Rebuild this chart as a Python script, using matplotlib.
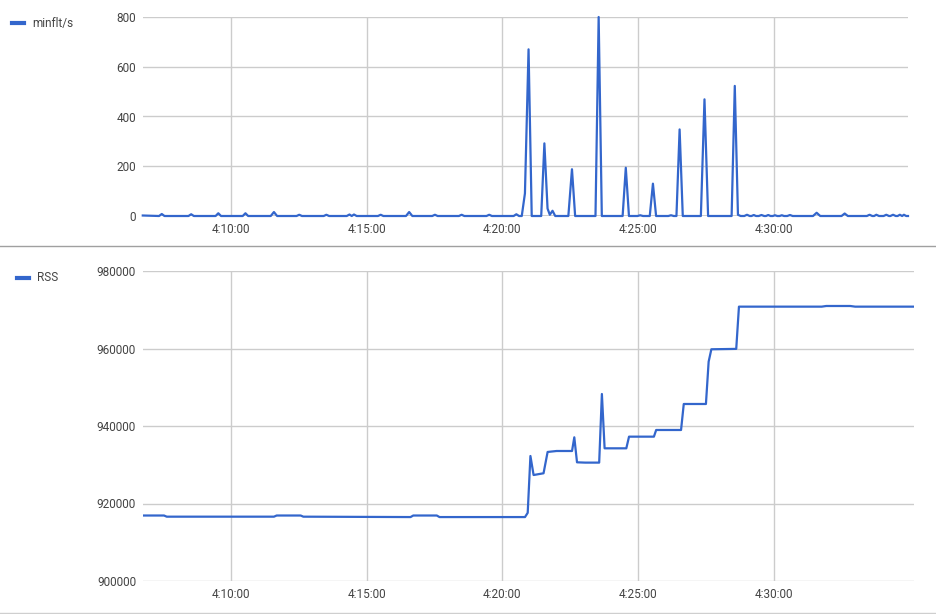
import matplotlib
matplotlib.use("Agg")
import matplotlib.pyplot as plt
from matplotlib.lines import Line2D
from matplotlib.ticker import FuncFormatter, FixedLocator

plt.rcParams['font.family'] = ['Roboto', 'DejaVu Sans']

# ---- data: seconds after 4:00:00 ----
minflt_t = [405, 441, 447, 453, 506, 512, 518, 566, 572, 578, 626, 632, 638,
            688, 695, 702, 745, 751, 757, 805, 811, 817, 856, 862, 867, 872, 878,
            925, 931, 937, 987, 994, 1001, 1045, 1051, 1057, 1104, 1110, 1116,
            1165, 1171, 1177, 1225, 1231, 1237, 1243, 1250, 1258, 1265,
            1286, 1293, 1300, 1305, 1311, 1317, 1346, 1354, 1361,
            1406, 1413, 1420, 1466, 1473, 1480, 1499, 1505, 1511,
            1526, 1533, 1540, 1567, 1573, 1579, 1585, 1592, 1599,
            1639, 1647, 1655, 1707, 1714, 1721, 1727, 1735, 1741, 1747,
            1751, 1756, 1761, 1767, 1773, 1779, 1783, 1788, 1793,
            1798, 1803, 1808, 1813, 1818, 1823, 1830, 1836, 1842,
            1887, 1895, 1903, 1950, 1957, 1964, 2006, 2012, 2018,
            2022, 2027, 2033, 2043, 2049, 2055, 2058, 2064, 2070,
            2074, 2079, 2084, 2088, 2093, 2097]
minflt_v = [2, 0, 8, 0, 0, 7, 0, 0, 11, 0, 0, 11, 0,
            0, 16, 0, 0, 5, 0, 0, 5, 0, 0, 6, 0, 6, 0,
            0, 5, 0, 0, 16, 0, 0, 5, 0, 0, 5, 0,
            0, 5, 0, 0, 7, 0, 0, 91, 670, 0,
            0, 292, 30, 5, 21, 0, 0, 188, 0,
            0, 800, 0, 0, 194, 0, 0, 3, 0,
            0, 130, 0, 0, 3, 0, 0, 348, 0,
            0, 469, 0, 0, 523, 5, 0, 0, 5, 0,
            0, 4, 0, 0, 4, 0, 0, 4, 0,
            0, 3, 0, 0, 3, 0, 0, 4, 0,
            0, 13, 0, 0, 10, 0, 0, 5, 0,
            0, 5, 0, 0, 5, 0, 0, 5, 0,
            0, 5, 0, 5, 0, 0]

rss_t = [406, 452, 458, 695, 701, 754, 760, 997, 1003, 1055, 1061, 1250,
         1256, 1262, 1269, 1291, 1300, 1320, 1354, 1359, 1365, 1383, 1414,
         1420, 1426, 1474, 1480, 1535, 1540, 1595, 1601, 1650, 1656, 1662,
         1717, 1723, 1906, 1916, 1969, 1980, 2108]
rss_v = [916900, 916900, 916600, 916600, 916900, 916900, 916600, 916500, 916900,
         916900, 916500, 916500,
         917600, 932260, 927350, 927800, 933300, 933550, 933550, 937080, 930630,
         930550, 930550, 948260, 934240, 934240, 937250, 937250, 938970, 938970,
         945680, 945680, 956600, 959800, 959900, 970800, 970800, 970970, 970970,
         970800, 970800]

x_ticks = [600, 900, 1200, 1500, 1800]
top_yticks = [0, 200, 400, 600, 800]
bot_yticks = [900000, 920000, 940000, 960000, 980000]

BLUE = '#3366cc'
GRID = '#cccccc'
TXT = '#444444'

W, H = 937, 614
fig = plt.figure(figsize=(W / 100, H / 100), dpi=100)


def fmt_time(t, pos=None):
    m = int(round(t)) // 60
    s = int(round(t)) % 60
    return f"4:{m:02d}:{s:02d}"


def style(ax, yticks, ylim, xlim):
    ax.set_xlim(*xlim)
    ax.set_ylim(*ylim)
    for sp in ax.spines.values():
        sp.set_visible(False)
    ax.xaxis.set_major_locator(FixedLocator(x_ticks))
    ax.xaxis.set_major_formatter(FuncFormatter(fmt_time))
    ax.set_yticks(yticks)
    ax.set_yticklabels([str(v) for v in yticks])
    ax.tick_params(length=0, labelsize=8.5, colors=TXT)
    ax.tick_params(axis='y', pad=5)
    ax.tick_params(axis='x', pad=5)
    ax.grid(True, color=GRID, linewidth=1.0)
    ax.set_axisbelow(True)


ax1 = fig.add_axes([143 / W, 1 - 216 / H, (908 - 143) / W, (216 - 17) / H])
ax1.plot(minflt_t, minflt_v, color=BLUE, linewidth=1.6, clip_on=False, zorder=3)
style(ax1, top_yticks, (0, 800), (405.5, 2097))
ax1.axhline(0, color='#333333', linewidth=1.0, zorder=2)

ax2 = fig.add_axes([143 / W, 1 - 581 / H, (914 - 143) / W, (581 - 271) / H])
ax2.plot(rss_t, rss_v, color=BLUE, linewidth=1.6, zorder=3)
style(ax2, bot_yticks, (900000, 980000), (405.5, 2110))

# legends
fig.add_artist(Line2D([12 / W, 24 / W], [1 - 23 / H, 1 - 23 / H], color=BLUE, linewidth=3.0))
fig.text(32 / W, 1 - 23 / H, 'minflt/s', fontsize=8.5, color=TXT, va='center', ha='left')
fig.add_artist(Line2D([17 / W, 29 / W], [1 - 277.5 / H, 1 - 277.5 / H], color=BLUE, linewidth=3.0))
fig.text(37 / W, 1 - 277.5 / H, 'RSS', fontsize=8.5, color=TXT, va='center', ha='left')

# separator lines
fig.add_artist(Line2D([0, 1], [1 - 245.5 / H, 1 - 245.5 / H], color='#a0a0a0', linewidth=1.0))
fig.add_artist(Line2D([0, 1], [1 - 612.5 / H, 1 - 612.5 / H], color='#cfcfcf', linewidth=1.0))

fig.savefig('out.png', dpi=100, facecolor='white')
